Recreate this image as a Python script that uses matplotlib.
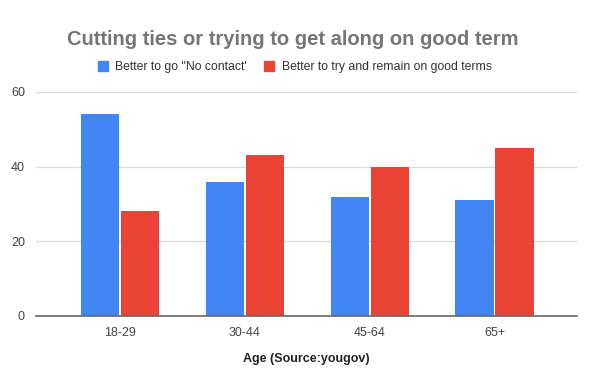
import matplotlib
matplotlib.use("Agg")
import matplotlib.pyplot as plt
import numpy as np
from matplotlib.patches import Patch

plt.rcParams["font.family"] = ["Liberation Sans", "DejaVu Sans"]

ages = ["18-29", "30-44", "45-64", "65+"]
no_contact = [54, 36, 32, 31]
good_terms = [28, 43, 40, 45]
series_names = ['Better to go "No contact\'', "Better to try and remain on good terms"]

BLUE = "#4285F4"
RED = "#EA4335"

fig = plt.figure(figsize=(6.1, 3.69), dpi=100)
ax = fig.add_axes([36 / 610, 53 / 369, 541 / 610, 224 / 369])

x = np.arange(len(ages))
w = 0.305
ax.bar(x - 0.16, no_contact, width=w, color=BLUE, zorder=3)
ax.bar(x + 0.16, good_terms, width=w, color=RED, zorder=3)

ax.set_xlim(-0.67, 3.66)
ax.set_ylim(0, 60)
ax.set_yticks([0, 20, 40, 60])
ax.set_xticks(x)
ax.set_xticklabels(ages)
ax.grid(axis="y", color="#d9d9d9", linewidth=0.9, zorder=0)
for s in ["top", "right", "left"]:
    ax.spines[s].set_visible(False)
ax.spines["bottom"].set_color("#666666")
ax.spines["bottom"].set_linewidth(1.2)
ax.spines["bottom"].set_zorder(4)
ax.tick_params(axis="both", length=0, labelsize=9, colors="#444444")
ax.tick_params(axis="x", pad=8)
ax.tick_params(axis="y", pad=8)

ax.set_xlabel("Age (Source:yougov)", fontsize=9, fontweight="bold",
              color="#222222", labelpad=10)

fig.text(0.48, 0.892, "Cutting ties or trying to get along on good term",
         ha="center", va="center", fontsize=14.5, fontweight="bold", color="#757575")

handles = [Patch(color=BLUE), Patch(color=RED)]
fig.legend(handles, series_names, loc="center", bbox_to_anchor=(0.483, 0.818),
           ncol=2, frameon=False, fontsize=8.8, handlelength=0.85, handleheight=0.85,
           handletextpad=0.6, columnspacing=1.4, labelcolor="#333333")

fig.savefig("out.png", dpi=100)
